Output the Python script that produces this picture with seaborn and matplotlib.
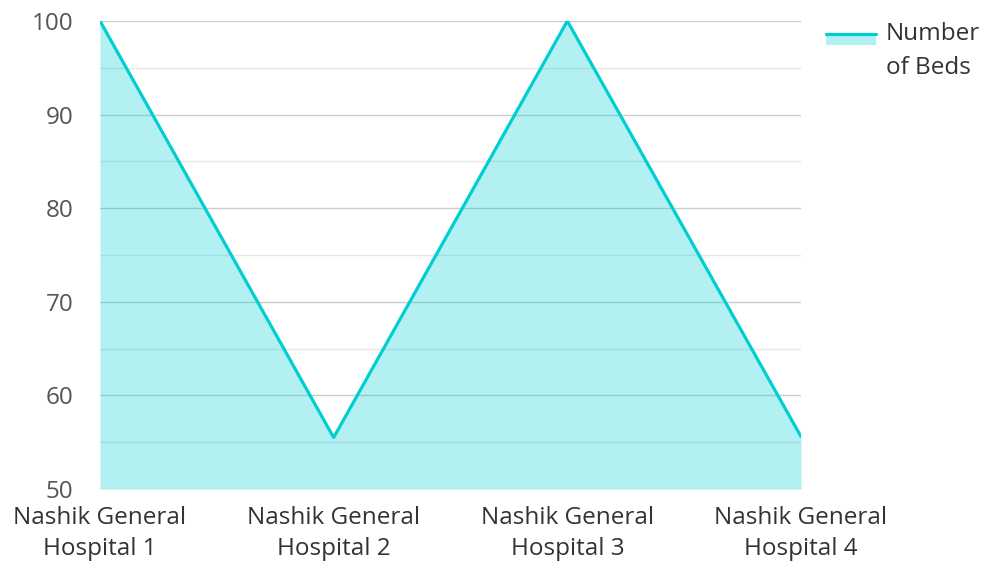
import matplotlib
matplotlib.use('Agg')
import matplotlib.pyplot as plt
import seaborn as sns
import pandas as pd
from matplotlib.patches import Rectangle
from matplotlib.lines import Line2D

# données
hospitals = ['Nashik General\nHospital 1', 'Nashik General\nHospital 2',
             'Nashik General\nHospital 3', 'Nashik General\nHospital 4']
beds = [100, 55.5, 100, 55.6]
yticks = [50, 60, 70, 80, 90, 100]

color = '#00CED1'
fs = 17.5

sns.set_style('white')
plt.rcParams['font.family'] = ['Open Sans', 'DejaVu Sans']

df = pd.DataFrame({'pos': range(len(hospitals)), 'beds': beds})

fig = plt.figure(figsize=(9.85, 5.63), dpi=100)
ax = fig.add_axes([100 / 985, 1 - 489 / 563, 701 / 985, 468 / 563])

# grille
for y in range(55, 100, 10):
    ax.axhline(y, color='#e6e6e6', lw=1, zorder=0)
for y in yticks:
    ax.axhline(y, color='#cccccc', lw=1, zorder=0)

ax.fill_between(df['pos'], 50, df['beds'], color=color, alpha=0.3, lw=0, zorder=1)
sns.lineplot(x='pos', y='beds', data=df, color=color, lw=2.3, ax=ax, zorder=2)

ax.set_xlim(0, len(hospitals) - 1)
ax.set_ylim(50, 100)
ax.set_xticks(range(len(hospitals)))
ax.set_xticklabels(hospitals, fontsize=fs, color='#333333', linespacing=1.4)
ax.set_yticks(yticks)
ax.set_yticklabels([str(v) for v in yticks], fontsize=fs, color='#555555')
ax.tick_params(axis='x', length=0, pad=12)
ax.tick_params(axis='y', length=0, pad=19)
ax.set_xlabel('')
ax.set_ylabel('')
for s in ax.spines.values():
    s.set_visible(False)

# légende dessinée à la main
fig.add_artist(Rectangle((826 / 985, 1 - 45 / 563), 50 / 985, 12 / 563,
                         transform=fig.transFigure, facecolor=color, alpha=0.3, lw=0))
fig.add_artist(Line2D([826 / 985, 876 / 985], [1 - 34 / 563, 1 - 34 / 563],
                      transform=fig.transFigure, color=color, lw=2.3))
fig.text(886 / 985, 1 - 51 / 563, 'Number\nof Beds', fontsize=fs, color='#333333',
         va='center', ha='left', linespacing=1.5)

fig.savefig('out.png', dpi=100)
